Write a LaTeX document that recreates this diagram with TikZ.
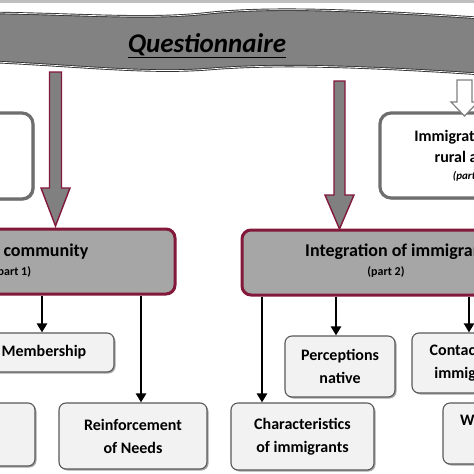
\documentclass[tikz,border=0pt]{standalone}
\usepackage{fontspec}
\setmainfont{Carlito}
\usetikzlibrary{arrows.meta,shadows}
\definecolor{wine}{RGB}{130,24,58}
\definecolor{topgray}{HTML}{6E6E6E}
\definecolor{boxgray}{HTML}{595959}
\definecolor{boxfill}{HTML}{F2F2F2}
\definecolor{redfill}{HTML}{A6A6A6}
\definecolor{arrowgray}{HTML}{808080}
\definecolor{bannergray}{HTML}{828282}
\tikzset{
  lightbox/.style={draw=boxgray, line width=1.1pt, fill=boxfill, rounded corners=7pt,
    align=center, inner sep=0pt, font=\bfseries\fontsize{16}{23}\selectfont,
    drop shadow={shadow xshift=1.5pt, shadow yshift=-1.5pt, fill=black, opacity=.35}},
  topbox/.style={draw=topgray, line width=3.2pt, fill=white, rounded corners=11pt, inner sep=0pt,
    drop shadow={shadow xshift=1.5pt, shadow yshift=-1.5pt, fill=black, opacity=.3}},
  redbox/.style={draw=wine, line width=3pt, fill=redfill, rounded corners=9pt, inner sep=0pt},
  blockarrow/.style={draw=wine, line width=1.4pt, fill=arrowgray, line join=miter},
  whitearrow/.style={draw=arrowgray, line width=1.2pt, fill=white, line join=miter},
  conn/.style={draw=black, line width=2.2pt, -{Triangle[length=9pt,width=10pt]}},
  bigtxt/.style={font=\bfseries\fontsize{18}{22}\selectfont, inner sep=0pt},
  smalltxt/.style={font=\bfseries\fontsize{12}{14}\selectfont, inner sep=0pt},
  midtxt/.style={font=\bfseries\fontsize{16}{20}\selectfont, inner sep=0pt},
}
\begin{document}
\begin{tikzpicture}[x=1pt,y=-1pt]
\useasboundingbox (0,0) rectangle (474,474);
\clip (0,0) rectangle (474,474);
\fill[white] (0,0) rectangle (474,474);
% top strip
\fill[black!25] (0,0) rectangle (474,2.5);
% banner
\draw[fill=bannergray, draw=black!80, line width=0.9pt, double=white, double distance=0.7pt]
  (-5,13) .. controls (80,14) and (150,20) .. (210,13) .. controls (260,8) and (330,8) .. (480,18)
  -- (480,74) .. controls (330,64) and (260,65) .. (210,69) .. controls (150,74) and (80,66) .. (-5,62) -- cycle;
\node[font=\bfseries\itshape\fontsize{27}{30}\selectfont, inner sep=0pt] (title) at (207,46) {\underline{Questionnaire}};
% top boxes
\node[topbox, minimum width=133pt, minimum height=86pt] (leftgray) at (-33.5,156) {};
\node[topbox, minimum width=180pt, minimum height=85pt] (immig) at (470,155.5) {};
\node[midtxt] (immig1) at (470,137) {Immigration into};
\node[midtxt] (immig2) at (470,157) {rural areas};
\node[font=\bfseries\itshape\fontsize{11}{13}\selectfont, inner sep=0pt] (immig3) at (470,176) {(part 3)};
% block arrows
\draw[blockarrow] (49.5,72) -- (61.5,72) -- (61.5,188) -- (70,188) -- (55.5,226) -- (41,188) -- (49.5,188) -- cycle;
\draw[blockarrow] (334,81) -- (345,81) -- (345,195) -- (354,195) -- (339.5,229) -- (325,195) -- (334,195) -- cycle;
\draw[whitearrow] (457,80) -- (472,80) -- (472,102) -- (478,102) -- (464.5,116) -- (451,102) -- (457,102) -- cycle;
% red boxes
\node[redbox, minimum width=325pt, minimum height=65pt] (community) at (12.5,261.5) {};
\node[bigtxt] (community1) at (12.5,252) {Sense of community};
\node[smalltxt] (community2) at (12.5,272) {(part 1)};
\node[redbox, minimum width=288pt, minimum height=65pt] (integ) at (386,262.5) {};
\node[bigtxt, anchor=west] (integ1) at (305,252) {Integration of immigrants};
\node[smalltxt] (integ2) at (386,272) {(part 2)};
% light boxes
\node[lightbox, minimum width=140pt, minimum height=39pt] (member) at (44,352.5) {Membership};
\node[lightbox, minimum width=135pt, minimum height=63pt] (lowleft) at (-32.5,434.5) {};
\node[lightbox, minimum width=148pt, minimum height=66pt] (reinf) at (133,436) {Reinforcement\\of Needs};
\node[lightbox, minimum width=143pt, minimum height=67pt] (charac) at (302.5,436.5) {Characteristics\\of immigrants};
\node[lightbox, minimum width=110pt, minimum height=61pt] (percep) at (340,366.5) {Perceptions\\native};
\node[lightbox, minimum width=120pt, minimum height=60pt] (contact) at (472,363) {Contact with\\immigrants};
\node[lightbox, minimum width=117pt, minimum height=61pt] (wbox) at (501.5,433.5) {};
\node[midtxt, anchor=west] (wtxt) at (460,420) {W};
% connectors
\draw[conn] (42,0 |- community.south) -- (42,0 |- member.north);
\draw[conn] (141,0 |- community.south) -- (141,0 |- reinf.north);
\draw[conn] (262,0 |- integ.south) -- (262,0 |- charac.north);
\draw[conn] (336,0 |- integ.south) -- (336,0 |- percep.north);
\draw[conn] (469,0 |- integ.south) -- (469,0 |- contact.north);
\end{tikzpicture}
\end{document}
